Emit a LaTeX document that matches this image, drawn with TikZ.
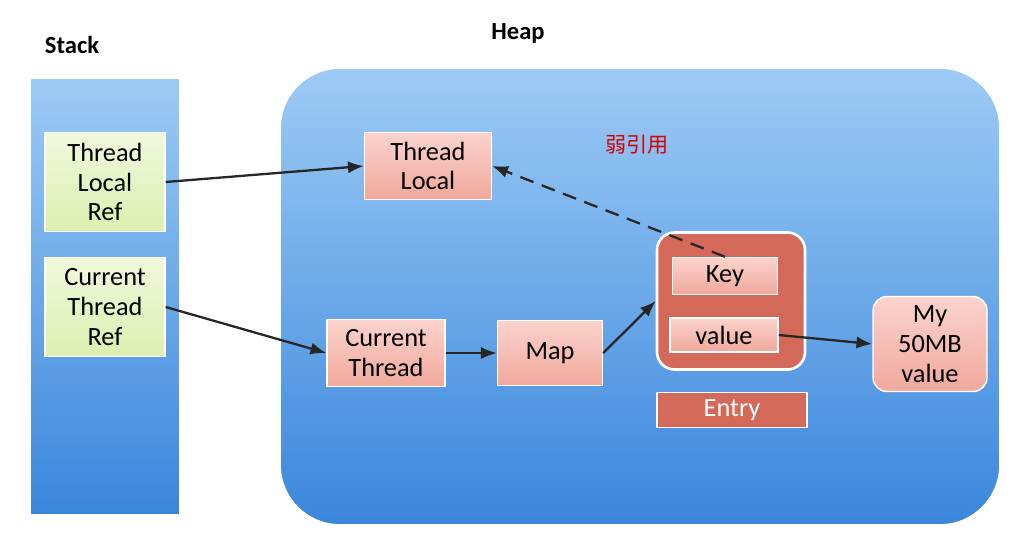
\documentclass[tikz,border=0pt]{standalone}
\usepackage{fontspec}
\setmainfont{Carlito}
\newfontfamily\cjk{Noto Sans CJK SC}
\usetikzlibrary{arrows.meta}
\definecolor{pinkT}{HTML}{FBD3CC}
\definecolor{pinkB}{HTML}{F0A89C}
\definecolor{entryc}{HTML}{D4695A}
\definecolor{blueT}{HTML}{9CCBF5}
\definecolor{blueB}{HTML}{3A86DC}
\definecolor{greenT}{HTML}{F0F8DC}
\definecolor{greenB}{HTML}{DCEFB0}
\begin{document}
\begin{tikzpicture}[x=0.02cm,y=-0.02cm,
  lbl/.style={font=\fontsize{15}{17}\selectfont,align=center},
  green/.style={draw=white,line width=0.8pt,top color=greenT,bottom color=greenB,lbl},
  pinkbox/.style={draw=white,line width=0.8pt,top color=pinkT,bottom color=pinkB,lbl},
  arr/.style={-{Latex[length=9pt,width=7pt]},line width=1.3pt,draw=black!85}]
\useasboundingbox (0,0) rectangle (1016,551);
\node[font=\fontsize{14}{16}\selectfont\bfseries] (stackl) at (72,45) {Stack};
\node[font=\fontsize{14}{16}\selectfont\bfseries] (heapl) at (518,33) {Heap};
\path[draw=white,line width=1pt,top color=blueT,bottom color=blueB] (30,78) rectangle (180,515);
\path[draw=white,line width=1pt,top color=blueT,bottom color=blueB,rounded corners=1.2cm] (280,68) rectangle (1000,525);
\node[green,minimum width=120*0.02cm,minimum height=99*0.02cm] (tlr) at (105,182) {Thread\\Local\\Ref};
\node[green,minimum width=120*0.02cm,minimum height=99*0.02cm] (ctr) at (105,307) {Current\\Thread\\Ref};
\node[pinkbox,minimum width=127*0.02cm,minimum height=67*0.02cm] (tl) at (428,166) {Thread\\Local};
\node[text=red!85!black,font=\cjk\fontsize{12}{14}\selectfont] (weak) at (637,145) {弱引用};
\node[draw=white,line width=1.5pt,fill=entryc,rounded corners=10pt,minimum width=148*0.02cm,minimum height=137*0.02cm] (entry) at (731,301) {};
\node[pinkbox,minimum width=105*0.02cm,minimum height=37*0.02cm] (key) at (725,276) {Key};
\node[pinkbox,minimum width=108*0.02cm,minimum height=34*0.02cm] (val) at (724,335) {value};
\node[draw=white,line width=1pt,fill=entryc,text=white,lbl,minimum width=150*0.02cm,minimum height=35*0.02cm] (entl) at (732,410) {Entry};
\node[pinkbox,minimum width=118*0.02cm,minimum height=67*0.02cm] (ct) at (386,353) {Current\\Thread};
\node[pinkbox,minimum width=105*0.02cm,minimum height=65*0.02cm] (map) at (550,353) {Map};
\node[pinkbox,rounded corners=8pt,minimum width=114*0.02cm,minimum height=95*0.02cm] (my) at (930,344) {My\\50MB\\value};
\draw[arr] (tlr.east) -- (tl.west);
\draw[arr] (ctr.east) -- (ct.west);
\draw[arr] (ct) -- (map);
\draw[arr] (map.east) -- (entry.west);
\draw[arr] (val.east) -- (my.west);
\draw[arr,dashed,dash pattern=on 8pt off 5pt] (key.north) -- (tl.east);
\end{tikzpicture}
\end{document}
